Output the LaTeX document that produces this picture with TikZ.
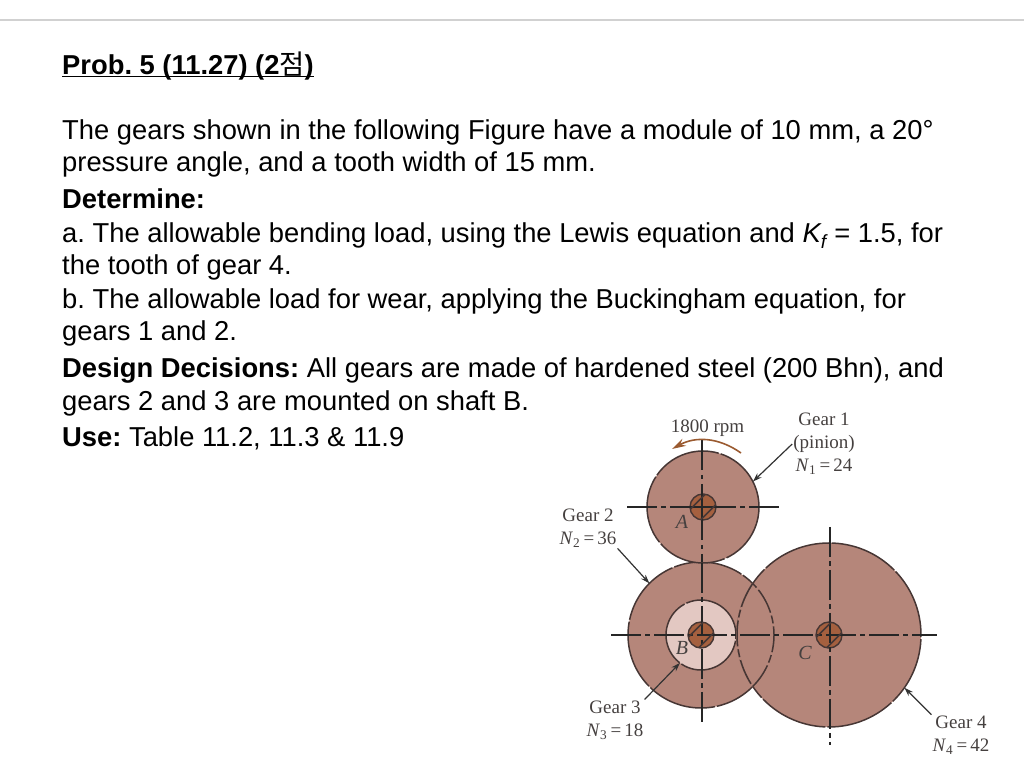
\documentclass[tikz,border=0pt]{standalone}
\usepackage{fontspec}
\usetikzlibrary{arrows.meta}
\setmainfont{Liberation Sans}
\newfontfamily\figfont{Liberation Serif}
\newfontfamily\cjk{Noto Sans CJK KR}
\definecolor{gearfill}{HTML}{B5867A}
\definecolor{gearlight}{HTML}{E3C8C2}
\definecolor{shaftfill}{HTML}{A5603F}
\definecolor{gearedge}{HTML}{463634}
\definecolor{figtext}{HTML}{45403F}
\definecolor{rotcolor}{HTML}{9A5A30}

\begin{document}
\begin{tikzpicture}[
            x = 1pt, y = 1pt,
            > = {Stealth[length=9pt,width=6pt]}, % arrow head style
            shorten > = 0pt, % let arrow head touch the gear
            body/.style = {anchor=base west, inner sep=0pt, font=\fontsize{27.35}{32}\selectfont\frenchspacing, text=black},
            gear/.style = {shape=circle, draw=gearedge, fill=gearfill, line width=1.5pt, inner sep=0pt, outer sep=0pt, dash pattern=on 70pt off 2pt},
            shaft/.style = {shape=circle, draw=gearedge, fill=shaftfill, line width=1.4pt, inner sep=0pt, outer sep=0pt, minimum size=26pt},
            hatch/.style = {draw=gearedge, line width=1.5pt},
            centerline/.style = {draw=black!85, line width=1.2pt, dash pattern=on 30pt off 4pt on 5pt off 4pt},
            hidden/.style = {draw=gearedge, line width=1.5pt, dash pattern=on 26pt off 3pt on 8pt off 3pt},
            label/.style = {inner sep=1pt, align=center, text=figtext, font=\figfont\fontsize{19}{23}\selectfont},
            letter/.style = {inner sep=0pt, text=figtext, font=\figfont\itshape\fontsize{20}{20}\selectfont},
            pointer/.style = {->, draw=black!80, line width=1.2pt}
        ]
\useasboundingbox (0,0) rectangle (1024,770);
\draw[black!18, line width=1.5pt] (0,750) -- (1024,750);

% problem text
\node[body] (title) at (62,695) {\textbf{\underline{\smash{Prob. 5 (11.27) (2{\cjk\mdseries 점})}}}};
\node[body] (lineone) at (62,630) {The gears shown in the following Figure have a module of 10 mm, a 20°};
\node[body] (linetwo) at (62,598) {pressure angle, and a tooth width of 15 mm.};
\node[body] (linethree) at (62,561) {\textbf{Determine:}};
\node[body] (linefour) at (62,527) {a. The allowable bending load, using the Lewis equation and \textit{K\textsubscript{f}} = 1.5, for};
\node[body] (linefive) at (62,495) {the tooth of gear 4.};
\node[body] (linesix) at (62,461) {b. The allowable load for wear, applying the Buckingham equation, for};
\node[body] (lineseven) at (62,429) {gears 1 and 2.};
\node[body] (lineeight) at (62,392) {\textbf{Design Decisions:} All gears are made of hardened steel (200 Bhn), and};
\node[body] (linenine) at (62,359) {gears 2 and 3 are mounted on shaft B.};
\node[body] (lineten) at (62,323) {\textbf{Use:} Table 11.2, 11.3 \& 11.9};

% gears
\node[gear, minimum size=146pt] (geartwo) at (701,135) {};
\node[gear, minimum size=184pt] (gearfour) at (829,135) {};
\node[gear, minimum size=112pt] (gearone) at (703,263) {};
\node[gear, fill=gearlight, minimum size=70pt] (gearthree) at (701,135) {};

% overlap of gears 2 and 4: outlines are hidden there
\path[fill=gearfill, draw=gearfill, line width=1.5pt, line join=round] (geartwo.45) arc[start angle=45, end angle=-45, radius=73]
     arc[start angle=214, end angle=146, radius=92] -- cycle;
\draw[hidden] (geartwo.-45) arc[start angle=-45, end angle=45, radius=73];
\draw[hidden] (gearfour.146) arc[start angle=146, end angle=214, radius=92];

% center lines
\coordinate (oneleft) at (627,263);
\coordinate (oneright) at (781,263);
\coordinate (onetop) at (702,330);
\coordinate (onebottom) at (702,208);
\coordinate (twoleft) at (611,135);
\coordinate (fourright) at (937,135);
\coordinate (twotop) at (702,207);
\coordinate (twobottom) at (702,46);
\coordinate (fourtop) at (830,243);
\coordinate (fourbottom) at (830,25);

% shafts
\node[shaft] (shafta) at (703,263) {};
\node[shaft] (shaftb) at (701,135) {};
\node[shaft] (shaftc) at (829,135) {};

\draw[centerline, dash pattern=on 30pt off 4pt on 5pt off 4pt on 66pt off 4pt on 5pt off 4pt on 30pt] (oneleft) -- (oneright);
\draw[centerline, dash pattern=on 30pt off 5pt on 4pt off 5pt on 56pt off 5pt on 4pt off 5pt on 30pt] (onetop) -- (onebottom);
\draw[centerline] (twoleft) -- (fourright);
\draw[centerline] (twotop) -- (twobottom);
\draw[centerline] (fourtop) -- (fourbottom);

\draw[hatch] (shafta.80) -- (shafta.190);
\draw[hatch] (shafta.10) -- (shafta.-100);
\draw[hatch] (shaftb.80) -- (shaftb.190);
\draw[hatch] (shaftb.10) -- (shaftb.-100);
\draw[hatch] (shaftc.80) -- (shaftc.190);
\draw[hatch] (shaftc.10) -- (shaftc.-100);

% rotation arrow
\coordinate (rotstart) at (741,317);
\coordinate (rotend) at (672,321);
\node[label] (rpm) at (707.5,342) {1800 rpm};
\draw[-{Stealth[length=14pt,width=8pt]}, draw=rotcolor, line width=1.6pt] (rotstart) to[bend right=32] (rotend);

% labels
\node[letter] (lettera) at (682,248) {A};
\node[letter] (letterb) at (682,122) {B};
\node[letter] (letterc) at (805,117) {C};
\node[label] (gearonelbl) at (824,326) {Gear 1\\(pinion)\\\textit{N}\textsubscript{1}\,=\,24};
\node[label] (geartwolbl) at (588,242) {Gear 2\\\textit{N}\textsubscript{2}\,=\,36};
\node[label] (gearthreelbl) at (615,50) {Gear 3\\\textit{N}\textsubscript{3}\,=\,18};
\node[label] (gearfourlbl) at (961,35) {Gear 4\\\textit{N}\textsubscript{4}\,=\,42};

\draw[pointer] (gearonelbl.west) -- (gearone.27);
\draw[pointer] (geartwolbl.south east) -- (geartwo.135);
\draw[pointer] (gearthreelbl.north east) -- (gearthree.233);
\draw[pointer] (gearfourlbl.north west) -- (gearfour.-35);

\end{tikzpicture}
\end{document}
